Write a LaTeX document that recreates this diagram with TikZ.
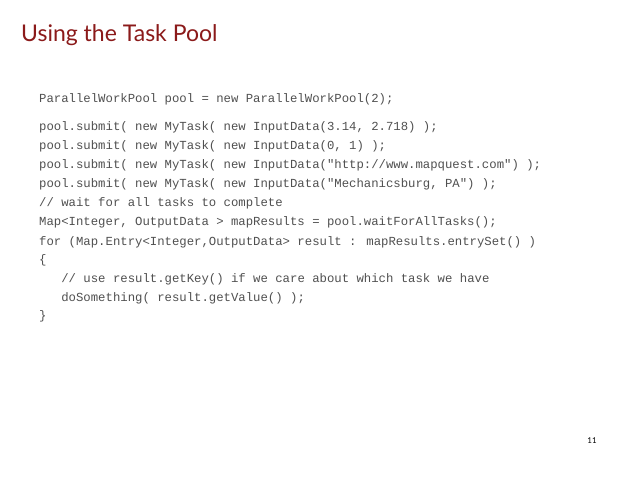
\documentclass[tikz,border=0pt]{standalone}
\usepackage{fontspec}
\setmainfont{Lato}
\newfontfamily\codefont{Liberation Mono}
\definecolor{titlered}{HTML}{8B1A1A}
\definecolor{codegray}{HTML}{505050}
\begin{document}
\begin{tikzpicture}[x=1pt,y=1pt,
  codeline/.style={anchor=west,inner sep=0pt,text=codegray,font=\codefont\fontsize{12.3}{14}\selectfont}]
\useasboundingbox[fill=white] (0,0) rectangle (638,478);
\node[anchor=west,inner sep=0pt,text=titlered,font=\fontsize{23}{26}\selectfont] (title) at (21,443) {Using the Task Pool};
\node[codeline] (l1) at (39,379) {ParallelWorkPool pool = new ParallelWorkPool(2);};
\node[codeline] (l2) at (39,351) {pool.submit( new MyTask( new InputData(3.14, 2.718) );};
\node[codeline] (l3) at (39,332) {pool.submit( new MyTask( new InputData(0, 1) );};
\node[codeline] (l4) at (39,313) {pool.submit( new MyTask( new InputData("http://www.mapquest.com") );};
\node[codeline] (l5) at (39,294) {pool.submit( new MyTask( new InputData("Mechanicsburg, PA") );};
\node[codeline] (l6) at (39,275) {// wait for all tasks to complete};
\node[codeline] (l7) at (39,256) {Map<Integer, OutputData > mapResults = pool.waitForAllTasks();};
\node[codeline] (l8) at (39,236) {for (Map.Entry<Integer,OutputData> result : mapResults.entrySet() )};
\node[codeline] (l9) at (39,218) {\{};
\node[codeline] (l10) at (39,199) {\ \ \ // use result.getKey() if we care about which task we have};
\node[codeline] (l11) at (39,180) {\ \ \ doSomething( result.getValue() );};
\node[codeline] (l12) at (39,162) {\}};
\node[anchor=center,inner sep=0pt,text=black,font=\fontsize{8}{9}\selectfont] (pg) at (592,37) {11};
\end{tikzpicture}
\end{document}
